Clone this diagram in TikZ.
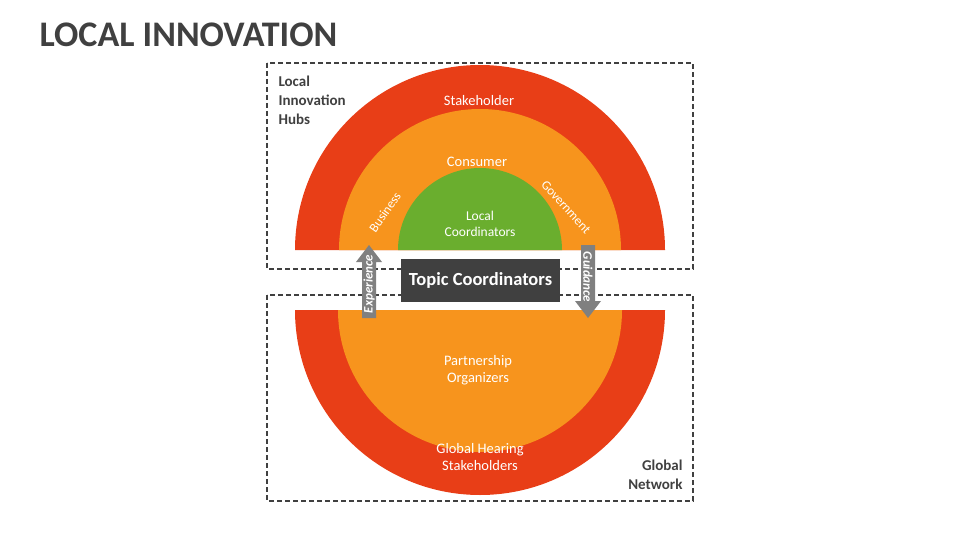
\documentclass[tikz,border=0pt]{standalone}
\usepackage{fontspec}
\setmainfont{Carlito}
\definecolor{redc}{HTML}{E83E17}
\definecolor{orc}{HTML}{F7941D}
\definecolor{grc}{HTML}{6AAE2E}
\definecolor{dg}{HTML}{404040}
\definecolor{ag}{HTML}{808080}
\tikzset{lbl/.style={text=white,font=\fontsize{14.5}{17}\selectfont,align=center},
 dbox/.style={draw=dg,dash pattern=on 5pt off 3pt,line width=1.2pt},
 blk/.style={text=dg,font=\bfseries\fontsize{15}{19}\selectfont,align=left}}
\begin{document}
\begin{tikzpicture}[x=1pt,y=-1pt]
\useasboundingbox (0,0) rectangle (960,540);
\node[anchor=west,text=dg,font=\bfseries\fontsize{36}{38}\selectfont] (title) at (36,35) {LOCAL INNOVATION};
\draw[dbox] (267,63) rectangle (693,269);
\draw[dbox] (267,295) rectangle (693,501);
% top
\fill[redc] (295,250) arc[start angle=180,end angle=360,radius=185] -- cycle;
\fill[orc] (339,250) arc[start angle=180,end angle=360,radius=141] -- cycle;
\fill[grc] (398,250) arc[start angle=180,end angle=360,radius=82] -- cycle;
% bottom
\fill[redc] (295,310) arc[start angle=180,end angle=0,radius=185] -- cycle;
\fill[orc] (338,310) arc[start angle=180,end angle=0,radius=142] -- cycle;
\node[lbl] (sh) at (479,101) {Stakeholder};
\node[lbl] (co) at (477,162) {Consumer};
\node[lbl,font=\fontsize{13}{15}\selectfont] (bu) at (385,212) [rotate=55] {Business};
\node[lbl,font=\fontsize{13}{15}\selectfont] (go) at (566,207) [rotate=-48] {Government};
\node[lbl,font=\fontsize{13.5}{16.5}\selectfont] (lc) at (480,224) {Local\\Coordinators};
\node[lbl] (po) at (478,370) {Partnership\\Organizers};
\node[lbl] (gh) at (480,457) {Global Hearing\\Stakeholders};
\node[blk] (lih) at (275,100) [anchor=west] {Local\\Innovation\\Hubs};
\node[blk,align=right] (gn) at (686,475) [anchor=east] {Global\\Network};
\node[fill=dg,text=white,font=\bfseries\fontsize{18.5}{20}\selectfont,minimum width=159,minimum height=43,inner sep=0] (tc) at (480.5,280.5) {Topic Coordinators};
% arrows
\fill[ag] (362,318) -- (362,262) -- (356,262) -- (369,245) -- (382,262) -- (376,262) -- (376,318) -- cycle;
\node[text=white,font=\bfseries\itshape\fontsize{13}{15}\selectfont,rotate=90] (ex) at (369,284) {Experience};
\fill[ag] (581,245) -- (581,301) -- (575,301) -- (588,318) -- (601,301) -- (595,301) -- (595,245) -- cycle;
\node[text=white,font=\bfseries\itshape\fontsize{13}{15}\selectfont,rotate=-90] (gu) at (588,277) {Guidance};
\end{tikzpicture}
\end{document}
